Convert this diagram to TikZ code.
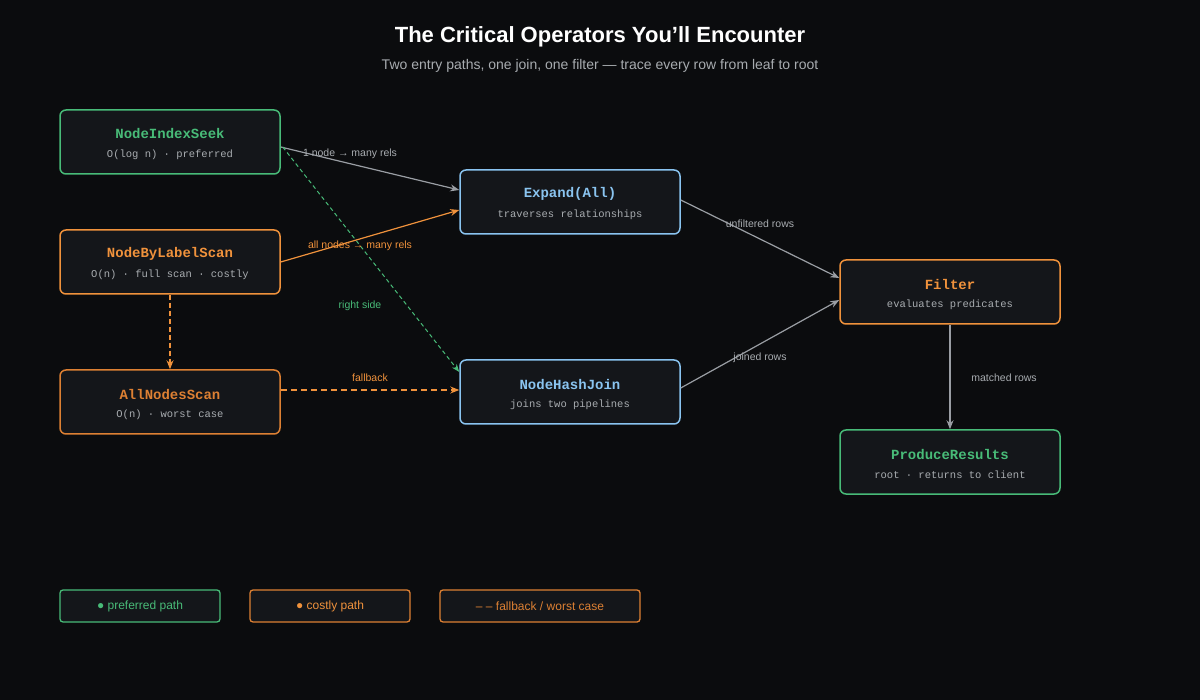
\documentclass[tikz,border=0pt]{standalone}
\usepackage{fontspec}
\setmainfont{Liberation Sans}
\newfontfamily\mono{Liberation Mono}
\usetikzlibrary{arrows.meta,calc}
\definecolor{bg}{HTML}{0B0C0E}
\definecolor{nf}{HTML}{14161A}
\definecolor{cg}{HTML}{48BB78}
\definecolor{co}{HTML}{F0923C}
\definecolor{cd}{HTML}{DD8033}
\definecolor{cb}{HTML}{8AC4F0}
\definecolor{tx}{HTML}{A8ACB0}
\definecolor{ln}{HTML}{9A9EA4}
\begin{document}
\begin{tikzpicture}[x=1pt,y=-1pt,
 box/.style={draw=#1,line width=1.5pt,fill=nf,rounded corners=6pt,minimum width=220pt,minimum height=64pt,align=center,inner sep=0pt},
 ttl/.style={font=\mono\bfseries\fontsize{14}{16}\selectfont,text=#1},
 sub/.style={font=\mono\fontsize{10.5}{12}\selectfont,text=tx},
 lab/.style={font=\fontsize{10.5}{12}\selectfont,text=#1},
 arr/.style={line width=1.2pt,draw=#1,-{Stealth[length=9pt,width=7pt]}},
 leg/.style={draw=#1,line width=1.3pt,fill=nf,rounded corners=3pt,minimum height=32pt,inner sep=0pt,font=\fontsize{12}{14}\selectfont}]
\fill[bg] (0,0) rectangle (1200,700);
\useasboundingbox (0,0) rectangle (1200,700);
\node[font=\bfseries\fontsize{22}{26}\selectfont,text=white] (title) at (600,37) {The Critical Operators You'll Encounter};
\node[font=\fontsize{14}{16}\selectfont,text=tx] (subt) at (600,66) {Two entry paths, one join, one filter — trace every row from leaf to root};

\node[box=cg] (seek) at (170,142) {};
\node[ttl=cg] at (170,134) {NodeIndexSeek};
\node[sub] at (170,155) {O(log n) · preferred};
\node[box=co] (label) at (170,262) {};
\node[ttl=co] at (170,254) {NodeByLabelScan};
\node[sub] at (170,275) {O(n) · full scan · costly};
\node[box=cd] (all) at (170,402) {};
\node[ttl=cd] at (170,394) {AllNodesScan};
\node[sub] at (170,415) {O(n) · worst case};
\node[box=cb] (exp) at (570,202) {};
\node[ttl=cb] at (570,194) {Expand(All)};
\node[sub] at (570,215) {traverses relationships};
\node[box=cb] (hj) at (570,392) {};
\node[ttl=cb] at (570,384) {NodeHashJoin};
\node[sub] at (570,405) {joins two pipelines};
\node[box=co] (filt) at (950,292) {};
\node[ttl=co] at (950,284) {Filter};
\node[sub] at (950,305) {evaluates predicates};
\node[box=cg] (prod) at (950,462) {};
\node[ttl=cg] at (950,454) {ProduceResults};
\node[sub] at (950,475) {root · returns to client};

\draw[arr=ln] ($(seek.east)+(0,5)$) -- ($(exp.west)+(0,-12)$);
\node[lab=tx] at (350,154) {1 node → many rels};
\draw[draw=cg,line width=1pt,dash pattern=on 4pt off 3pt,-{Stealth[length=8pt,width=6pt]}] ($(seek.east)+(2,5)$) -- ($(hj.west)+(0,-20)$);
\node[lab=cg] at (360,306) {right side};
\draw[arr=co] (label.east) -- ($(exp.west)+(0,8)$);
\node[lab=co] at (360,246) {all nodes → many rels};
\draw[arr=co,dash pattern=on 5pt off 3pt] (label.south) -- (all.north);
\draw[arr=co,dash pattern=on 6pt off 4pt] ($(all.east)+(0,-12)$) -- ($(hj.west)+(0,-2)$);
\node[lab=co] at (370,378) {fallback};
\draw[arr=ln] ($(exp.east)+(0,-2)$) -- ($(filt.west)+(0,-14)$);
\node[lab=tx] at (760,224) {unfiltered rows};
\draw[arr=ln] ($(hj.east)+(0,-4)$) -- ($(filt.west)+(0,8)$);
\node[lab=tx] at (760,358) {joined rows};
\draw[arr=ln] (filt.south) -- (prod.north);
\node[lab=tx] at (1004,378) {matched rows};

\node[leg=cg,minimum width=160pt,text=cg] (l1) at (140,606) {● preferred path};
\node[leg=cd,minimum width=160pt,text=co] (l2) at (330,606) {● costly path};
\node[leg=cd,minimum width=200pt,text=cd] (l3) at (540,606) {-- -- fallback / worst case};
\end{tikzpicture}
\end{document}
